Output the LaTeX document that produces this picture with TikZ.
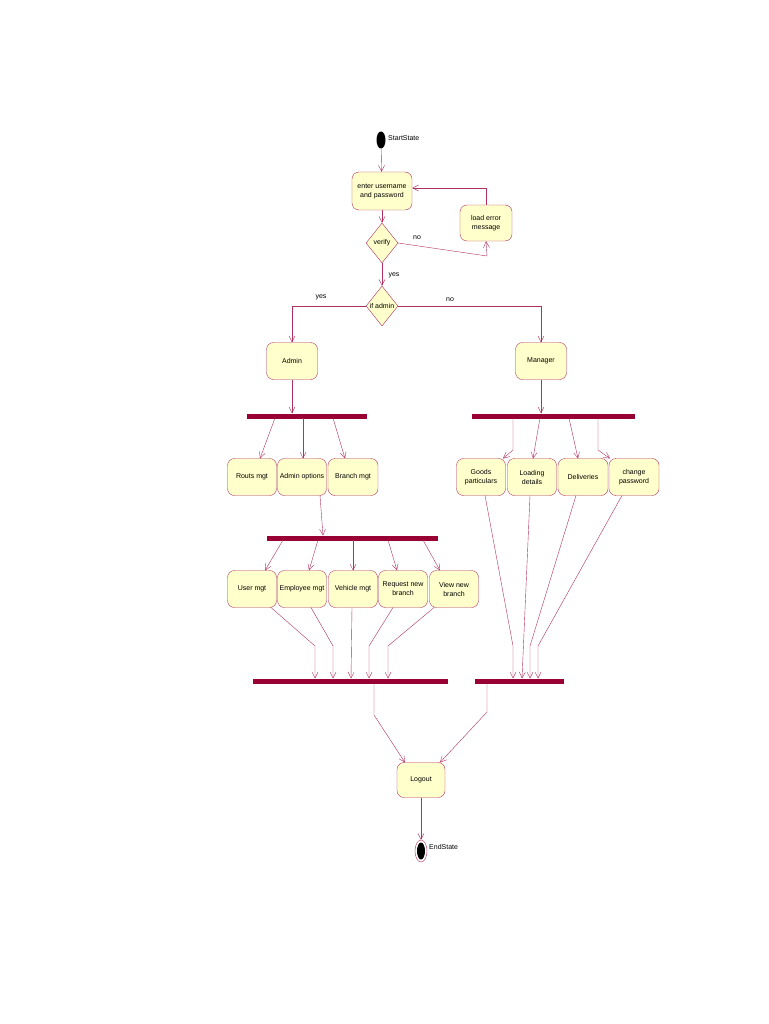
\documentclass[tikz,border=0pt]{standalone}
\usepackage{fontspec}
\setmainfont{Liberation Sans}
\usetikzlibrary{shapes.geometric,arrows.meta}
\definecolor{ln}{HTML}{B03060}
\definecolor{bar}{HTML}{990033}
\definecolor{fillc}{HTML}{FFFFCC}
\begin{document}
\begin{tikzpicture}[x=1pt,y=-1pt,
  act/.style={draw=ln,fill=fillc,rounded corners=7pt,minimum width=49pt,minimum height=37pt,align=center,font=\fontsize{7}{9}\selectfont,inner sep=1pt},
  dec/.style={draw=ln,fill=fillc,diamond,minimum width=32pt,minimum height=40pt,inner sep=0pt,font=\fontsize{7}{8}\selectfont},
  barx/.style={fill=bar,draw=none},
  ar/.style={draw=ln,-{Straight Barb[length=6pt,width=6pt]}},
  lb/.style={font=\fontsize{7}{8}\selectfont,inner sep=1pt}]
\useasboundingbox (0,0) rectangle (768,1024);
\node[fill=black,ellipse,minimum width=9pt,minimum height=17pt,inner sep=0pt] (st) at (381,140) {};
\node[lb,anchor=west] at (387,138) {StartState};
\node[act,minimum width=60pt,minimum height=38pt] (enter) at (382,191) {enter username\\and password};
\node[act,minimum width=52pt,minimum height=36pt] (err) at (486,223) {load error\\message};
\node[dec] (ver) at (382,243) {verify};
\node[dec] (adm) at (382,306) {if admin};
\node[act,minimum width=51pt] (admin) at (292,361) {Admin};
\node[act,minimum width=51pt] (mgr) at (541,361) {Manager};
\node[barx,minimum width=120pt,minimum height=5pt,inner sep=0pt] (b1) at (307,416) {};
\node[barx,minimum width=163pt,minimum height=5pt,inner sep=0pt] (b2) at (553,416) {};
\node[act] (routs) at (252,477) {Routs mgt};
\node[act] (aopt) at (302,477) {Admin options};
\node[act,minimum width=50pt] (branch) at (353,477) {Branch mgt};
\node[act] (goods) at (481,477) {Goods\\particulars};
\node[act] (load) at (532,477) {Loading\\details};
\node[act,minimum width=50pt] (deliv) at (583,477) {Deliveries};
\node[act,minimum width=50pt] (chg) at (634,477) {change\\password};
\node[barx,minimum width=171pt,minimum height=5pt,inner sep=0pt] (b3) at (352,538) {};
\node[act] (user) at (252,589) {User mgt};
\node[act] (emp) at (302,589) {Employee mgt};
\node[act] (veh) at (353,589) {Vehicle mgt};
\node[act] (req) at (403,589) {Request new\\branch};
\node[act] (view) at (454,589) {View new\\branch};
\node[barx,minimum width=195pt,minimum height=5pt,inner sep=0pt] (b4) at (350,681) {};
\node[barx,minimum width=89pt,minimum height=5pt,inner sep=0pt] (b5) at (519,681) {};
\node[act,minimum width=48pt,minimum height=35pt] (logout) at (421,780) {Logout};
\node[draw=ln,ellipse,minimum width=12pt,minimum height=22pt,inner sep=0pt] (end) at (421,851) {};
\node[fill=black,ellipse,minimum width=8pt,minimum height=17pt,inner sep=0pt] at (421,851) {};
\node[lb,anchor=west] at (428,847) {EndState};
% edges
\draw[ar] (st) -- (enter);
\draw[ar] (enter) -- (ver);
\draw[ar] (ver.east) -- (487,256) -- (err.south);
\node[lb] at (417,238) {no};
\draw[ar] (err.north) -- (486,188) -- (enter.east |- 0,188);
\draw[ar] (ver) -- (adm);
\node[lb] at (394,275) {yes};
\draw[ar] (adm.west) -- (292,306) -- (admin.north);
\node[lb] at (321,297) {yes};
\draw[ar] (adm.east) -- (541,306) -- (mgr.north);
\node[lb] at (450,300) {no};
\draw[ar] (admin) -- (admin |- b1.north);
\draw[ar] (mgr) -- (mgr |- b2.north);
\draw[ar] (275,418) -- (260,458.5);
\draw[ar] (303,418) -- (303,458.5);
\draw[ar] (333,418) -- (345,458.5);
\draw[ar] (513,418) -- (513,450) -- (503,458.5);
\draw[ar] (540,418) -- (533,458.5);
\draw[ar] (569,418) -- (578,458.5);
\draw[ar] (598,418) -- (598,450) -- (610,458.5);
\draw[ar] (320,495.5) -- (323,535.5);
\draw[ar] (283,540) -- (265,570.5);
\draw[ar] (318,540) -- (309,570.5);
\draw[ar] (353,540) -- (353,570.5);
\draw[ar] (388,540) -- (397,570.5);
\draw[ar] (423,540) -- (440,570.5);
\draw[ar] (271,607.5) -- (315,646) -- (315,678.5);
\draw[ar] (311,607.5) -- (333,646) -- (333,678.5);
\draw[ar] (352,607.5) -- (351,678.5);
\draw[ar] (393,607.5) -- (369,646) -- (369,678.5);
\draw[ar] (434,607.5) -- (388,646) -- (388,678.5);
\draw[ar] (485,495.5) -- (513,646) -- (513,678.5);
\draw[ar] (530,495.5) -- (522,678.5);
\draw[ar] (576,495.5) -- (530,646) -- (530,678.5);
\draw[ar] (622,495.5) -- (538,646) -- (538,678.5);
\draw[ar] (374,683.5) -- (374,715) -- (405,762.5);
\draw[ar] (487,683.5) -- (487,712) -- (440,762.5);
\draw[ar] (logout) -- (end);
\end{tikzpicture}
\end{document}
